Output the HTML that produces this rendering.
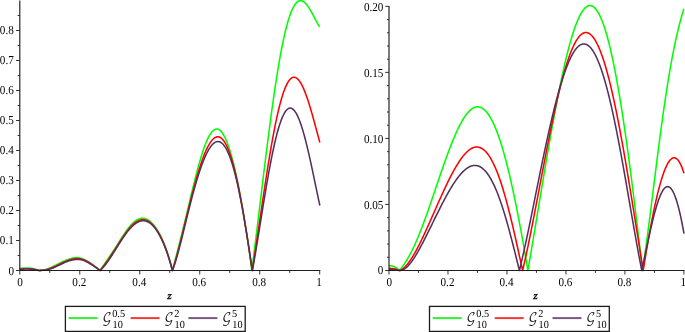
<!DOCTYPE html>
<html lang="en"><head><meta charset="utf-8"><title>Plots</title>
<style>
html,body{margin:0;padding:0;background:#fff;}
body{width:685px;height:332px;overflow:hidden;}
svg{display:block;}
.t{font-family:"Liberation Serif","DejaVu Serif",serif;font-size:12.2px;fill:#000;text-rendering:geometricPrecision;}
.i{font-style:italic;font-size:10.4px;stroke:#000;stroke-width:0.3px;}
.s{font-family:"Liberation Serif","DejaVu Serif",serif;font-size:10.8px;fill:#000;text-rendering:geometricPrecision;}
.g{font-family:"DejaVu Math TeX Gyre","DejaVu Serif","Liberation Serif",serif;font-size:12.4px;fill:#111;}
</style></head><body>
<svg width="685" height="332" viewBox="0 0 685 332">
<rect width="685" height="332" fill="#fff"/>
<g>
<path d="M19.80 268.60L20.30 268.50L20.80 268.41L21.30 268.32L21.80 268.24L22.30 268.17L22.80 268.11L23.30 268.06L23.80 268.02L24.30 267.98L24.80 267.95L25.30 267.93L25.80 267.92L26.30 267.91L26.80 267.91L27.30 267.92L27.80 267.94L28.30 267.97L28.80 268.00L29.30 268.05L29.80 268.10L30.30 268.16L30.80 268.22L31.30 268.30L31.80 268.38L32.30 268.47L32.80 268.57L33.30 268.68L33.80 268.79L34.30 268.92L34.80 269.05L35.30 269.18L35.80 269.33L36.30 269.49L36.80 269.65L37.30 269.82L37.80 270.00L38.30 270.18L38.80 270.38L39.10 270.50L39.60 270.46L40.10 270.42L40.60 270.38L41.10 270.33L41.60 270.28L42.10 270.22L42.60 270.15L43.10 270.07L43.60 269.98L44.10 269.88L44.60 269.77L45.10 269.64L45.60 269.50L46.10 269.36L46.60 269.20L47.10 269.03L47.60 268.86L48.10 268.67L48.60 268.48L49.10 268.28L49.60 268.07L50.10 267.86L50.60 267.64L51.10 267.41L51.60 267.18L52.10 266.95L52.60 266.71L53.10 266.46L53.60 266.22L54.10 265.97L54.60 265.71L55.10 265.46L55.60 265.21L56.10 264.95L56.60 264.70L57.10 264.44L57.60 264.19L58.10 263.94L58.60 263.69L59.10 263.44L59.60 263.19L60.10 262.95L60.60 262.70L61.10 262.46L61.60 262.22L62.10 261.99L62.60 261.75L63.10 261.53L63.60 261.30L64.10 261.08L64.60 260.86L65.10 260.65L65.60 260.44L66.10 260.23L66.60 260.03L67.10 259.84L67.60 259.65L68.10 259.46L68.60 259.29L69.10 259.11L69.60 258.95L70.10 258.78L70.60 258.63L71.10 258.48L71.60 258.34L72.10 258.21L72.60 258.09L73.10 257.98L73.60 257.88L74.10 257.79L74.60 257.72L75.10 257.66L75.60 257.62L76.10 257.60L76.60 257.60L77.10 257.62L77.60 257.65L78.10 257.71L78.60 257.78L79.10 257.86L79.60 257.96L80.10 258.08L80.60 258.21L81.10 258.35L81.60 258.51L82.10 258.67L82.60 258.85L83.10 259.04L83.60 259.24L84.10 259.44L84.60 259.66L85.10 259.89L85.60 260.13L86.10 260.38L86.60 260.64L87.10 260.91L87.60 261.19L88.10 261.48L88.60 261.78L89.10 262.10L89.60 262.43L90.10 262.77L90.60 263.11L91.10 263.47L91.60 263.84L92.10 264.21L92.60 264.59L93.10 264.97L93.60 265.36L94.10 265.75L94.60 266.15L95.10 266.54L95.60 266.94L96.10 267.33L96.60 267.73L97.10 268.12L97.60 268.52L98.10 268.92L98.60 269.31L99.10 269.71L99.60 270.10L100.10 270.50L100.60 269.67L101.10 268.87L101.60 268.08L102.10 267.31L102.60 266.55L103.10 265.81L103.60 265.08L104.10 264.35L104.60 263.63L105.10 262.91L105.60 262.20L106.10 261.49L106.60 260.78L107.10 260.07L107.60 259.36L108.10 258.65L108.60 257.93L109.10 257.21L109.60 256.48L110.10 255.76L110.60 255.02L111.10 254.28L111.60 253.54L112.10 252.79L112.60 252.03L113.10 251.27L113.60 250.51L114.10 249.74L114.60 248.96L115.10 248.18L115.60 247.40L116.10 246.62L116.60 245.83L117.10 245.04L117.60 244.24L118.10 243.45L118.60 242.65L119.10 241.86L119.60 241.07L120.10 240.28L120.60 239.49L121.10 238.70L121.60 237.92L122.10 237.14L122.60 236.37L123.10 235.60L123.60 234.84L124.10 234.09L124.60 233.35L125.10 232.61L125.60 231.89L126.10 231.18L126.60 230.48L127.10 229.79L127.60 229.12L128.10 228.46L128.60 227.81L129.10 227.19L129.60 226.57L130.10 225.98L130.60 225.40L131.10 224.84L131.60 224.30L132.10 223.78L132.60 223.28L133.10 222.80L133.60 222.34L134.10 221.91L134.60 221.49L135.10 221.10L135.60 220.74L136.10 220.39L136.60 220.07L137.10 219.78L137.60 219.51L138.10 219.26L138.60 219.05L139.10 218.85L139.60 218.68L140.10 218.54L140.60 218.43L141.10 218.34L141.60 218.28L142.10 218.24L142.60 218.23L143.10 218.25L143.60 218.30L144.10 218.37L144.60 218.47L145.10 218.60L145.60 218.75L146.10 218.94L146.60 219.14L147.10 219.38L147.60 219.64L148.10 219.93L148.60 220.25L149.10 220.59L149.60 220.96L150.10 221.36L150.60 221.78L151.10 222.23L151.60 222.70L152.10 223.21L152.60 223.74L153.10 224.29L153.60 224.87L154.10 225.48L154.60 226.12L155.10 226.78L155.60 227.47L156.10 228.18L156.60 228.93L157.10 229.70L157.60 230.50L158.10 231.32L158.60 232.18L159.10 233.06L159.60 233.98L160.10 234.92L160.60 235.90L161.10 236.90L161.60 237.94L162.10 239.01L162.60 240.12L163.10 241.26L163.60 242.44L164.10 243.65L164.60 244.91L165.10 246.20L165.60 247.53L166.10 248.91L166.60 250.34L167.10 251.81L167.60 253.33L168.10 254.90L168.60 256.53L169.10 258.21L169.60 259.95L170.10 261.76L170.60 263.62L171.10 265.56L171.60 267.56L172.10 269.65L172.30 270.50L172.80 268.62L173.30 266.74L173.80 264.87L174.30 262.99L174.80 261.11L175.30 259.23L175.80 257.34L176.30 255.45L176.80 253.55L177.30 251.63L177.80 249.71L178.30 247.78L178.80 245.84L179.30 243.89L179.80 241.92L180.30 239.95L180.80 237.96L181.30 235.96L181.80 233.95L182.30 231.93L182.80 229.90L183.30 227.85L183.80 225.80L184.30 223.74L184.80 221.67L185.30 219.59L185.80 217.51L186.30 215.42L186.80 213.33L187.30 211.23L187.80 209.13L188.30 207.02L188.80 204.92L189.30 202.82L189.80 200.72L190.30 198.62L190.80 196.53L191.30 194.45L191.80 192.37L192.30 190.30L192.80 188.24L193.30 186.19L193.80 184.16L194.30 182.14L194.80 180.14L195.30 178.16L195.80 176.19L196.30 174.25L196.80 172.33L197.30 170.43L197.80 168.56L198.30 166.71L198.80 164.90L199.30 163.11L199.80 161.36L200.30 159.63L200.80 157.95L201.30 156.29L201.80 154.68L202.30 153.10L202.80 151.57L203.30 150.07L203.80 148.62L204.30 147.21L204.80 145.84L205.30 144.52L205.80 143.25L206.30 142.03L206.80 140.85L207.30 139.73L207.80 138.66L208.30 137.64L208.80 136.67L209.30 135.76L209.80 134.90L210.30 134.10L210.80 133.36L211.30 132.67L211.80 132.04L212.30 131.47L212.80 130.96L213.30 130.50L213.80 130.11L214.30 129.78L214.80 129.51L215.30 129.30L215.80 129.16L216.30 129.07L216.80 129.05L217.30 129.09L217.80 129.20L218.30 129.36L218.80 129.59L219.30 129.89L219.80 130.24L220.30 130.66L220.80 131.14L221.30 131.69L221.80 132.29L222.30 132.96L222.80 133.70L223.30 134.49L223.80 135.35L224.30 136.26L224.80 137.24L225.30 138.28L225.80 139.38L226.30 140.54L226.80 141.76L227.30 143.03L227.80 144.37L228.30 145.77L228.80 147.22L229.30 148.73L229.80 150.29L230.30 151.92L230.80 153.59L231.30 155.33L231.80 157.11L232.30 158.95L232.80 160.85L233.30 162.80L233.80 164.80L234.30 166.85L234.80 168.95L235.30 171.11L235.80 173.31L236.30 175.57L236.80 177.87L237.30 180.23L237.80 182.63L238.30 185.08L238.80 187.58L239.30 190.13L239.80 192.73L240.30 195.38L240.80 198.07L241.30 200.82L241.80 203.61L242.30 206.45L242.80 209.34L243.30 212.27L243.80 215.26L244.30 218.30L244.80 221.39L245.30 224.53L245.80 227.72L246.30 230.96L246.80 234.26L247.30 237.61L247.80 241.02L248.30 244.49L248.80 248.01L249.30 251.60L249.80 255.25L250.30 258.96L250.80 262.74L251.30 266.58L251.80 270.50L252.30 266.66L252.80 262.79L253.30 258.88L253.80 254.93L254.30 250.96L254.80 246.97L255.30 242.95L255.80 238.90L256.30 234.84L256.80 230.76L257.30 226.66L257.80 222.55L258.30 218.43L258.80 214.30L259.30 210.16L259.80 206.02L260.30 201.88L260.80 197.73L261.30 193.59L261.80 189.45L262.30 185.32L262.80 181.19L263.30 177.08L263.80 172.97L264.30 168.88L264.80 164.81L265.30 160.75L265.80 156.72L266.30 152.70L266.80 148.71L267.30 144.75L267.80 140.81L268.30 136.90L268.80 133.02L269.30 129.17L269.80 125.35L270.30 121.58L270.80 117.83L271.30 114.13L271.80 110.47L272.30 106.85L272.80 103.27L273.30 99.74L273.80 96.25L274.30 92.81L274.80 89.42L275.30 86.08L275.80 82.79L276.30 79.56L276.80 76.37L277.30 73.25L277.80 70.18L278.30 67.16L278.80 64.21L279.30 61.31L279.80 58.48L280.30 55.71L280.80 53.00L281.30 50.35L281.80 47.76L282.30 45.25L282.80 42.79L283.30 40.41L283.80 38.09L284.30 35.83L284.80 33.65L285.30 31.53L285.80 29.49L286.30 27.51L286.80 25.61L287.30 23.77L287.80 22.00L288.30 20.31L288.80 18.68L289.30 17.13L289.80 15.65L290.30 14.24L290.80 12.90L291.30 11.63L291.80 10.44L292.30 9.31L292.80 8.26L293.30 7.27L293.80 6.36L294.30 5.52L294.80 4.74L295.30 4.03L295.80 3.40L296.30 2.83L296.80 2.33L297.30 1.89L297.80 1.52L298.30 1.21L298.80 0.97L299.30 0.79L299.80 0.67L300.30 0.62L300.80 0.62L301.30 0.68L301.80 0.80L302.30 0.98L302.80 1.21L303.30 1.49L303.80 1.83L304.30 2.21L304.80 2.65L305.30 3.13L305.80 3.65L306.30 4.22L306.80 4.83L307.30 5.48L307.80 6.16L308.30 6.88L308.80 7.64L309.30 8.42L309.80 9.23L310.30 10.07L310.80 10.93L311.30 11.82L311.80 12.72L312.30 13.64L312.80 14.56L313.30 15.50L313.80 16.45L314.30 17.40L314.80 18.35L315.30 19.30L315.80 20.25L316.30 21.18L316.80 22.11L317.30 23.02L317.80 23.91L318.30 24.77L318.80 25.62L319.30 26.43L319.60 26.90" fill="none" stroke="#00ff00" stroke-width="1.55" stroke-linejoin="round" stroke-linecap="butt"/>
<path d="M19.80 269.30L20.30 269.22L20.80 269.14L21.30 269.07L21.80 269.01L22.30 268.95L22.80 268.90L23.30 268.85L23.80 268.81L24.30 268.78L24.80 268.75L25.30 268.73L25.80 268.72L26.30 268.71L26.80 268.70L27.30 268.70L27.80 268.71L28.30 268.73L28.80 268.75L29.30 268.77L29.80 268.81L30.30 268.84L30.80 268.89L31.30 268.94L31.80 268.99L32.30 269.06L32.80 269.13L33.30 269.20L33.80 269.28L34.30 269.37L34.80 269.46L35.30 269.56L35.80 269.66L36.30 269.77L36.80 269.89L37.30 270.01L37.80 270.14L38.30 270.27L38.80 270.41L39.10 270.50L39.60 270.46L40.10 270.43L40.60 270.39L41.10 270.35L41.60 270.31L42.10 270.26L42.60 270.21L43.10 270.15L43.60 270.09L44.10 270.02L44.60 269.94L45.10 269.85L45.60 269.76L46.10 269.66L46.60 269.55L47.10 269.43L47.60 269.31L48.10 269.17L48.60 269.02L49.10 268.87L49.60 268.70L50.10 268.52L50.60 268.33L51.10 268.14L51.60 267.93L52.10 267.72L52.60 267.50L53.10 267.28L53.60 267.05L54.10 266.81L54.60 266.57L55.10 266.33L55.60 266.09L56.10 265.85L56.60 265.60L57.10 265.36L57.60 265.12L58.10 264.87L58.60 264.63L59.10 264.39L59.60 264.15L60.10 263.91L60.60 263.68L61.10 263.44L61.60 263.21L62.10 262.98L62.60 262.75L63.10 262.52L63.60 262.30L64.10 262.08L64.60 261.86L65.10 261.65L65.60 261.44L66.10 261.23L66.60 261.03L67.10 260.83L67.60 260.64L68.10 260.45L68.60 260.27L69.10 260.10L69.60 259.94L70.10 259.78L70.60 259.63L71.10 259.49L71.60 259.35L72.10 259.23L72.60 259.12L73.10 259.01L73.60 258.92L74.10 258.84L74.60 258.77L75.10 258.71L75.60 258.66L76.10 258.63L76.60 258.61L77.10 258.60L77.60 258.61L78.10 258.63L78.60 258.66L79.10 258.71L79.60 258.78L80.10 258.86L80.60 258.95L81.10 259.06L81.60 259.18L82.10 259.32L82.60 259.47L83.10 259.63L83.60 259.81L84.10 260.01L84.60 260.22L85.10 260.44L85.60 260.67L86.10 260.91L86.60 261.17L87.10 261.43L87.60 261.71L88.10 262.00L88.60 262.29L89.10 262.60L89.60 262.91L90.10 263.23L90.60 263.56L91.10 263.90L91.60 264.24L92.10 264.59L92.60 264.94L93.10 265.29L93.60 265.65L94.10 266.02L94.60 266.38L95.10 266.75L95.60 267.12L96.10 267.49L96.60 267.87L97.10 268.24L97.60 268.62L98.10 268.99L98.60 269.37L99.10 269.75L99.60 270.12L100.10 270.50L100.60 269.87L101.10 269.24L101.60 268.61L102.10 267.98L102.60 267.34L103.10 266.70L103.60 266.05L104.10 265.39L104.60 264.74L105.10 264.07L105.60 263.40L106.10 262.72L106.60 262.03L107.10 261.33L107.60 260.63L108.10 259.92L108.60 259.21L109.10 258.48L109.60 257.75L110.10 257.01L110.60 256.27L111.10 255.52L111.60 254.76L112.10 254.00L112.60 253.23L113.10 252.46L113.60 251.69L114.10 250.91L114.60 250.12L115.10 249.34L115.60 248.55L116.10 247.75L116.60 246.96L117.10 246.17L117.60 245.38L118.10 244.58L118.60 243.79L119.10 243.01L119.60 242.22L120.10 241.44L120.60 240.66L121.10 239.88L121.60 239.11L122.10 238.35L122.60 237.59L123.10 236.84L123.60 236.10L124.10 235.37L124.60 234.65L125.10 233.93L125.60 233.23L126.10 232.54L126.60 231.86L127.10 231.19L127.60 230.54L128.10 229.90L128.60 229.28L129.10 228.67L129.60 228.07L130.10 227.50L130.60 226.93L131.10 226.39L131.60 225.87L132.10 225.36L132.60 224.87L133.10 224.40L133.60 223.95L134.10 223.53L134.60 223.12L135.10 222.73L135.60 222.37L136.10 222.02L136.60 221.70L137.10 221.41L137.60 221.13L138.10 220.88L138.60 220.65L139.10 220.45L139.60 220.27L140.10 220.12L140.60 219.99L141.10 219.89L141.60 219.81L142.10 219.75L142.60 219.72L143.10 219.72L143.60 219.75L144.10 219.80L144.60 219.87L145.10 219.98L145.60 220.11L146.10 220.26L146.60 220.44L147.10 220.65L147.60 220.89L148.10 221.15L148.60 221.44L149.10 221.76L149.60 222.11L150.10 222.48L150.60 222.88L151.10 223.31L151.60 223.76L152.10 224.24L152.60 224.75L153.10 225.29L153.60 225.86L154.10 226.45L154.60 227.07L155.10 227.72L155.60 228.40L156.10 229.11L156.60 229.85L157.10 230.61L157.60 231.41L158.10 232.23L158.60 233.08L159.10 233.96L159.60 234.88L160.10 235.82L160.60 236.80L161.10 237.80L161.60 238.84L162.10 239.91L162.60 241.02L163.10 242.15L163.60 243.32L164.10 244.53L164.60 245.77L165.10 247.05L165.60 248.36L166.10 249.72L166.60 251.11L167.10 252.54L167.60 254.01L168.10 255.53L168.60 257.09L169.10 258.69L169.60 260.34L170.10 262.04L170.60 263.78L171.10 265.58L171.60 267.43L172.10 269.33L172.40 270.50L172.90 269.00L173.40 267.45L173.90 265.86L174.40 264.21L174.90 262.53L175.40 260.81L175.90 259.05L176.40 257.25L176.90 255.42L177.40 253.57L177.90 251.68L178.40 249.77L178.90 247.84L179.40 245.88L179.90 243.91L180.40 241.92L180.90 239.92L181.40 237.90L181.90 235.87L182.40 233.82L182.90 231.78L183.40 229.72L183.90 227.66L184.40 225.60L184.90 223.53L185.40 221.47L185.90 219.40L186.40 217.34L186.90 215.29L187.40 213.23L187.90 211.19L188.40 209.15L188.90 207.12L189.40 205.10L189.90 203.10L190.40 201.10L190.90 199.12L191.40 197.16L191.90 195.21L192.40 193.28L192.90 191.36L193.40 189.46L193.90 187.59L194.40 185.73L194.90 183.90L195.40 182.09L195.90 180.30L196.40 178.54L196.90 176.80L197.40 175.09L197.90 173.41L198.40 171.75L198.90 170.13L199.40 168.53L199.90 166.96L200.40 165.43L200.90 163.92L201.40 162.45L201.90 161.01L202.40 159.61L202.90 158.24L203.40 156.91L203.90 155.61L204.40 154.35L204.90 153.13L205.40 151.94L205.90 150.80L206.40 149.69L206.90 148.63L207.40 147.61L207.90 146.63L208.40 145.69L208.90 144.79L209.40 143.94L209.90 143.13L210.40 142.37L210.90 141.66L211.40 140.99L211.90 140.36L212.40 139.79L212.90 139.26L213.40 138.78L213.90 138.36L214.40 137.98L214.90 137.65L215.40 137.37L215.90 137.15L216.40 136.98L216.90 136.86L217.40 136.79L217.90 136.78L218.40 136.82L218.90 136.92L219.40 137.07L219.90 137.28L220.40 137.54L220.90 137.86L221.40 138.24L221.90 138.68L222.40 139.17L222.90 139.72L223.40 140.33L223.90 141.00L224.40 141.73L224.90 142.52L225.40 143.37L225.90 144.28L226.40 145.25L226.90 146.29L227.40 147.38L227.90 148.53L228.40 149.75L228.90 151.02L229.40 152.36L229.90 153.76L230.40 155.22L230.90 156.74L231.40 158.32L231.90 159.97L232.40 161.67L232.90 163.44L233.40 165.27L233.90 167.16L234.40 169.10L234.90 171.11L235.40 173.18L235.90 175.31L236.40 177.49L236.90 179.73L237.40 182.03L237.90 184.39L238.40 186.80L238.90 189.27L239.40 191.79L239.90 194.37L240.40 196.99L240.90 199.67L241.40 202.40L241.90 205.18L242.40 208.00L242.90 210.88L243.40 213.79L243.90 216.75L244.40 219.76L244.90 222.80L245.40 225.88L245.90 229.00L246.40 232.15L246.90 235.34L247.40 238.55L247.90 241.80L248.40 245.07L248.90 248.36L249.40 251.67L249.90 255.01L250.40 258.36L250.90 261.72L251.40 265.09L251.90 268.47L252.20 270.50L252.70 267.39L253.20 264.24L253.70 261.05L254.20 257.83L254.70 254.58L255.20 251.30L255.70 247.99L256.20 244.66L256.70 241.31L257.20 237.95L257.70 234.57L258.20 231.18L258.70 227.78L259.20 224.37L259.70 220.96L260.20 217.55L260.70 214.14L261.20 210.73L261.70 207.33L262.20 203.94L262.70 200.56L263.20 197.19L263.70 193.83L264.20 190.50L264.70 187.18L265.20 183.88L265.70 180.61L266.20 177.36L266.70 174.14L267.20 170.95L267.70 167.79L268.20 164.66L268.70 161.57L269.20 158.51L269.70 155.49L270.20 152.51L270.70 149.58L271.20 146.68L271.70 143.83L272.20 141.02L272.70 138.26L273.20 135.55L273.70 132.89L274.20 130.28L274.70 127.73L275.20 125.22L275.70 122.77L276.20 120.38L276.70 118.04L277.20 115.77L277.70 113.55L278.20 111.39L278.70 109.29L279.20 107.25L279.70 105.27L280.20 103.36L280.70 101.51L281.20 99.73L281.70 98.01L282.20 96.36L282.70 94.77L283.20 93.25L283.70 91.80L284.20 90.42L284.70 89.10L285.20 87.85L285.70 86.67L286.20 85.56L286.70 84.52L287.20 83.55L287.70 82.65L288.20 81.81L288.70 81.05L289.20 80.36L289.70 79.73L290.20 79.18L290.70 78.69L291.20 78.28L291.70 77.93L292.20 77.65L292.70 77.44L293.20 77.30L293.70 77.22L294.20 77.22L294.70 77.28L295.20 77.40L295.70 77.59L296.20 77.85L296.70 78.17L297.20 78.55L297.70 79.00L298.20 79.51L298.70 80.08L299.20 80.71L299.70 81.40L300.20 82.15L300.70 82.95L301.20 83.81L301.70 84.73L302.20 85.70L302.70 86.73L303.20 87.80L303.70 88.93L304.20 90.11L304.70 91.33L305.20 92.60L305.70 93.92L306.20 95.28L306.70 96.68L307.20 98.12L307.70 99.61L308.20 101.12L308.70 102.68L309.20 104.27L309.70 105.89L310.20 107.54L310.70 109.22L311.20 110.92L311.70 112.65L312.20 114.41L312.70 116.18L313.20 117.97L313.70 119.78L314.20 121.60L314.70 123.43L315.20 125.28L315.70 127.13L316.20 128.99L316.70 130.84L317.20 132.70L317.70 134.56L318.20 136.41L318.70 138.26L319.20 140.09L319.70 141.92L319.85 142.46" fill="none" stroke="#ff0000" stroke-width="1.55" stroke-linejoin="round" stroke-linecap="butt"/>
<path d="M19.80 269.50L20.30 269.43L20.80 269.37L21.30 269.32L21.80 269.27L22.30 269.22L22.80 269.18L23.30 269.14L23.80 269.11L24.30 269.08L24.80 269.06L25.30 269.05L25.80 269.03L26.30 269.03L26.80 269.02L27.30 269.03L27.80 269.03L28.30 269.05L28.80 269.06L29.30 269.09L29.80 269.11L30.30 269.14L30.80 269.18L31.30 269.22L31.80 269.27L32.30 269.32L32.80 269.38L33.30 269.44L33.80 269.50L34.30 269.57L34.80 269.65L35.30 269.73L35.80 269.81L36.30 269.91L36.80 270.00L37.30 270.10L37.80 270.20L38.30 270.31L38.80 270.43L39.10 270.50L39.60 270.47L40.10 270.45L40.60 270.42L41.10 270.39L41.60 270.36L42.10 270.32L42.60 270.28L43.10 270.24L43.60 270.19L44.10 270.14L44.60 270.08L45.10 270.01L45.60 269.94L46.10 269.87L46.60 269.78L47.10 269.69L47.60 269.59L48.10 269.48L48.60 269.37L49.10 269.25L49.60 269.11L50.10 268.97L50.60 268.82L51.10 268.66L51.60 268.49L52.10 268.31L52.60 268.13L53.10 267.93L53.60 267.73L54.10 267.53L54.60 267.31L55.10 267.09L55.60 266.87L56.10 266.64L56.60 266.41L57.10 266.17L57.60 265.93L58.10 265.68L58.60 265.43L59.10 265.18L59.60 264.94L60.10 264.69L60.60 264.44L61.10 264.19L61.60 263.95L62.10 263.70L62.60 263.46L63.10 263.23L63.60 263.00L64.10 262.78L64.60 262.56L65.10 262.34L65.60 262.14L66.10 261.94L66.60 261.74L67.10 261.55L67.60 261.37L68.10 261.20L68.60 261.03L69.10 260.87L69.60 260.71L70.10 260.57L70.60 260.43L71.10 260.30L71.60 260.17L72.10 260.05L72.60 259.95L73.10 259.85L73.60 259.76L74.10 259.68L74.60 259.61L75.10 259.55L75.60 259.49L76.10 259.45L76.60 259.42L77.10 259.41L77.60 259.40L78.10 259.40L78.60 259.42L79.10 259.45L79.60 259.49L80.10 259.55L80.60 259.62L81.10 259.71L81.60 259.81L82.10 259.94L82.60 260.08L83.10 260.23L83.60 260.41L84.10 260.60L84.60 260.81L85.10 261.04L85.60 261.28L86.10 261.53L86.60 261.79L87.10 262.06L87.60 262.33L88.10 262.62L88.60 262.91L89.10 263.20L89.60 263.50L90.10 263.79L90.60 264.10L91.10 264.40L91.60 264.71L92.10 265.02L92.60 265.33L93.10 265.65L93.60 265.97L94.10 266.30L94.60 266.63L95.10 266.96L95.60 267.30L96.10 267.65L96.60 268.00L97.10 268.35L97.60 268.70L98.10 269.06L98.60 269.42L99.10 269.78L99.60 270.14L100.10 270.50L100.60 270.05L101.10 269.58L101.60 269.08L102.10 268.57L102.60 268.03L103.10 267.48L103.60 266.91L104.10 266.32L104.60 265.71L105.10 265.08L105.60 264.44L106.10 263.79L106.60 263.12L107.10 262.43L107.60 261.74L108.10 261.03L108.60 260.31L109.10 259.57L109.60 258.83L110.10 258.08L110.60 257.32L111.10 256.56L111.60 255.78L112.10 255.01L112.60 254.22L113.10 253.43L113.60 252.64L114.10 251.84L114.60 251.04L115.10 250.24L115.60 249.43L116.10 248.63L116.60 247.83L117.10 247.02L117.60 246.22L118.10 245.42L118.60 244.63L119.10 243.83L119.60 243.05L120.10 242.26L120.60 241.48L121.10 240.71L121.60 239.95L122.10 239.19L122.60 238.44L123.10 237.70L123.60 236.97L124.10 236.24L124.60 235.53L125.10 234.83L125.60 234.14L126.10 233.46L126.60 232.80L127.10 232.14L127.60 231.50L128.10 230.88L128.60 230.27L129.10 229.67L129.60 229.09L130.10 228.53L130.60 227.98L131.10 227.45L131.60 226.94L132.10 226.44L132.60 225.96L133.10 225.50L133.60 225.06L134.10 224.64L134.60 224.24L135.10 223.86L135.60 223.50L136.10 223.16L136.60 222.84L137.10 222.54L137.60 222.26L138.10 222.01L138.60 221.78L139.10 221.57L139.60 221.38L140.10 221.22L140.60 221.08L141.10 220.96L141.60 220.87L142.10 220.80L142.60 220.76L143.10 220.74L143.60 220.75L144.10 220.78L144.60 220.84L145.10 220.92L145.60 221.03L146.10 221.16L146.60 221.32L147.10 221.51L147.60 221.72L148.10 221.96L148.60 222.23L149.10 222.52L149.60 222.85L150.10 223.19L150.60 223.57L151.10 223.98L151.60 224.41L152.10 224.87L152.60 225.36L153.10 225.87L153.60 226.42L154.10 227.00L154.60 227.60L155.10 228.23L155.60 228.90L156.10 229.59L156.60 230.31L157.10 231.06L157.60 231.85L158.10 232.66L158.60 233.50L159.10 234.38L159.60 235.28L160.10 236.22L160.60 237.19L161.10 238.19L161.60 239.22L162.10 240.29L162.60 241.39L163.10 242.52L163.60 243.69L164.10 244.88L164.60 246.12L165.10 247.39L165.60 248.69L166.10 250.03L166.60 251.40L167.10 252.81L167.60 254.26L168.10 255.74L168.60 257.27L169.10 258.83L169.60 260.43L170.10 262.06L170.60 263.74L171.10 265.46L171.60 267.22L172.10 269.03L172.50 270.50L173.00 269.19L173.50 267.81L174.00 266.37L174.50 264.87L175.00 263.31L175.50 261.70L176.00 260.04L176.50 258.33L177.00 256.58L177.50 254.79L178.00 252.97L178.50 251.12L179.00 249.23L179.50 247.32L180.00 245.39L180.50 243.43L181.00 241.45L181.50 239.46L182.00 237.46L182.50 235.44L183.00 233.42L183.50 231.38L184.00 229.35L184.50 227.30L185.00 225.26L185.50 223.22L186.00 221.18L186.50 219.14L187.00 217.11L187.50 215.09L188.00 213.07L188.50 211.06L189.00 209.07L189.50 207.08L190.00 205.11L190.50 203.16L191.00 201.22L191.50 199.30L192.00 197.39L192.50 195.51L193.00 193.64L193.50 191.80L194.00 189.98L194.50 188.18L195.00 186.41L195.50 184.65L196.00 182.93L196.50 181.23L197.00 179.56L197.50 177.91L198.00 176.30L198.50 174.71L199.00 173.15L199.50 171.63L200.00 170.13L200.50 168.67L201.00 167.23L201.50 165.84L202.00 164.47L202.50 163.14L203.00 161.84L203.50 160.58L204.00 159.35L204.50 158.16L205.00 157.00L205.50 155.89L206.00 154.81L206.50 153.77L207.00 152.76L207.50 151.80L208.00 150.88L208.50 149.99L209.00 149.15L209.50 148.35L210.00 147.59L210.50 146.88L211.00 146.20L211.50 145.57L212.00 144.99L212.50 144.45L213.00 143.95L213.50 143.50L214.00 143.09L214.50 142.73L215.00 142.42L215.50 142.16L216.00 141.94L216.50 141.77L217.00 141.65L217.50 141.59L218.00 141.57L218.50 141.60L219.00 141.68L219.50 141.81L220.00 142.00L220.50 142.24L221.00 142.53L221.50 142.88L222.00 143.28L222.50 143.73L223.00 144.24L223.50 144.80L224.00 145.42L224.50 146.10L225.00 146.83L225.50 147.62L226.00 148.47L226.50 149.37L227.00 150.33L227.50 151.35L228.00 152.43L228.50 153.57L229.00 154.77L229.50 156.02L230.00 157.34L230.50 158.71L231.00 160.14L231.50 161.64L232.00 163.19L232.50 164.81L233.00 166.48L233.50 168.21L234.00 170.00L234.50 171.86L235.00 173.77L235.50 175.74L236.00 177.76L236.50 179.85L237.00 181.99L237.50 184.19L238.00 186.45L238.50 188.77L239.00 191.13L239.50 193.56L240.00 196.04L240.50 198.57L241.00 201.15L241.50 203.78L242.00 206.46L242.50 209.19L243.00 211.97L243.50 214.79L244.00 217.66L244.50 220.57L245.00 223.52L245.50 226.51L246.00 229.54L246.50 232.60L247.00 235.70L247.50 238.82L248.00 241.97L248.50 245.15L249.00 248.35L249.50 251.58L250.00 254.81L250.50 258.07L251.00 261.33L251.50 264.60L252.00 267.88L252.40 270.50L252.90 267.74L253.40 264.94L253.90 262.09L254.40 259.21L254.90 256.29L255.40 253.33L255.90 250.35L256.40 247.34L256.90 244.31L257.40 241.26L257.90 238.19L258.40 235.11L258.90 232.01L259.40 228.91L259.90 225.80L260.40 222.69L260.90 219.58L261.40 216.48L261.90 213.38L262.40 210.29L262.90 207.20L263.40 204.14L263.90 201.08L264.40 198.05L264.90 195.04L265.40 192.05L265.90 189.08L266.40 186.14L266.90 183.24L267.40 180.36L267.90 177.52L268.40 174.71L268.90 171.94L269.40 169.21L269.90 166.52L270.40 163.88L270.90 161.27L271.40 158.72L271.90 156.21L272.40 153.76L272.90 151.36L273.40 149.00L273.90 146.71L274.40 144.47L274.90 142.28L275.40 140.16L275.90 138.09L276.40 136.09L276.90 134.15L277.40 132.27L277.90 130.45L278.40 128.70L278.90 127.02L279.40 125.41L279.90 123.86L280.40 122.38L280.90 120.97L281.40 119.63L281.90 118.37L282.40 117.17L282.90 116.05L283.40 115.00L283.90 114.02L284.40 113.11L284.90 112.28L285.40 111.53L285.90 110.85L286.40 110.24L286.90 109.71L287.40 109.25L287.90 108.87L288.40 108.57L288.90 108.34L289.40 108.18L289.90 108.10L290.40 108.09L290.90 108.16L291.40 108.31L291.90 108.52L292.40 108.81L292.90 109.17L293.40 109.61L293.90 110.12L294.40 110.70L294.90 111.35L295.40 112.07L295.90 112.86L296.40 113.72L296.90 114.64L297.40 115.64L297.90 116.69L298.40 117.82L298.90 119.01L299.40 120.26L299.90 121.57L300.40 122.95L300.90 124.38L301.40 125.87L301.90 127.42L302.40 129.02L302.90 130.68L303.40 132.39L303.90 134.15L304.40 135.96L304.90 137.82L305.40 139.72L305.90 141.67L306.40 143.67L306.90 145.70L307.40 147.77L307.90 149.88L308.40 152.02L308.90 154.20L309.40 156.41L309.90 158.64L310.40 160.91L310.90 163.19L311.40 165.50L311.90 167.83L312.40 170.18L312.90 172.54L313.40 174.92L313.90 177.31L314.40 179.70L314.90 182.10L315.40 184.50L315.90 186.90L316.40 189.29L316.90 191.68L317.40 194.06L317.90 196.43L318.40 198.79L318.90 201.12L319.40 203.44L319.85 205.50" fill="none" stroke="#54305e" stroke-width="1.55" stroke-linejoin="round" stroke-linecap="butt"/>
<path d="M388.90 265.70L389.40 265.66L389.90 265.65L390.40 265.67L390.90 265.71L391.40 265.78L391.90 265.88L392.40 266.01L392.90 266.16L393.40 266.34L393.90 266.54L394.40 266.78L394.90 267.04L395.40 267.32L395.90 267.64L396.40 267.98L396.90 268.35L397.40 268.75L397.90 269.17L398.40 269.62L398.90 270.10L399.30 270.50L399.80 269.94L400.30 269.36L400.80 268.77L401.30 268.15L401.80 267.52L402.30 266.87L402.80 266.20L403.30 265.51L403.80 264.80L404.30 264.08L404.80 263.33L405.30 262.57L405.80 261.79L406.30 260.99L406.80 260.17L407.30 259.33L407.80 258.48L408.30 257.61L408.80 256.71L409.30 255.80L409.80 254.88L410.30 253.93L410.80 252.97L411.30 251.99L411.80 250.99L412.30 249.97L412.80 248.94L413.30 247.89L413.80 246.83L414.30 245.74L414.80 244.65L415.30 243.53L415.80 242.40L416.30 241.26L416.80 240.10L417.30 238.92L417.80 237.73L418.30 236.53L418.80 235.31L419.30 234.08L419.80 232.83L420.30 231.57L420.80 230.30L421.30 229.02L421.80 227.72L422.30 226.41L422.80 225.10L423.30 223.76L423.80 222.42L424.30 221.07L424.80 219.71L425.30 218.34L425.80 216.96L426.30 215.57L426.80 214.17L427.30 212.77L427.80 211.35L428.30 209.93L428.80 208.50L429.30 207.07L429.80 205.63L430.30 204.18L430.80 202.73L431.30 201.28L431.80 199.82L432.30 198.35L432.80 196.89L433.30 195.42L433.80 193.94L434.30 192.47L434.80 190.99L435.30 189.52L435.80 188.04L436.30 186.56L436.80 185.08L437.30 183.60L437.80 182.13L438.30 180.65L438.80 179.18L439.30 177.71L439.80 176.24L440.30 174.77L440.80 173.31L441.30 171.86L441.80 170.40L442.30 168.96L442.80 167.52L443.30 166.08L443.80 164.66L444.30 163.24L444.80 161.82L445.30 160.42L445.80 159.02L446.30 157.63L446.80 156.26L447.30 154.89L447.80 153.53L448.30 152.18L448.80 150.85L449.30 149.52L449.80 148.21L450.30 146.91L450.80 145.63L451.30 144.35L451.80 143.10L452.30 141.85L452.80 140.62L453.30 139.41L453.80 138.21L454.30 137.03L454.80 135.86L455.30 134.71L455.80 133.58L456.30 132.47L456.80 131.38L457.30 130.30L457.80 129.24L458.30 128.21L458.80 127.19L459.30 126.19L459.80 125.21L460.30 124.26L460.80 123.32L461.30 122.41L461.80 121.52L462.30 120.66L462.80 119.81L463.30 118.99L463.80 118.19L464.30 117.42L464.80 116.67L465.30 115.95L465.80 115.25L466.30 114.58L466.80 113.93L467.30 113.31L467.80 112.71L468.30 112.14L468.80 111.60L469.30 111.09L469.80 110.60L470.30 110.15L470.80 109.72L471.30 109.31L471.80 108.94L472.30 108.60L472.80 108.29L473.30 108.00L473.80 107.75L474.30 107.52L474.80 107.33L475.30 107.17L475.80 107.03L476.30 106.93L476.80 106.86L477.30 106.82L477.80 106.82L478.30 106.84L478.80 106.90L479.30 106.99L479.80 107.11L480.30 107.26L480.80 107.45L481.30 107.67L481.80 107.92L482.30 108.21L482.80 108.53L483.30 108.88L483.80 109.27L484.30 109.69L484.80 110.14L485.30 110.63L485.80 111.16L486.30 111.71L486.80 112.30L487.30 112.93L487.80 113.59L488.30 114.28L488.80 115.01L489.30 115.77L489.80 116.57L490.30 117.40L490.80 118.27L491.30 119.17L491.80 120.11L492.30 121.08L492.80 122.08L493.30 123.12L493.80 124.19L494.30 125.30L494.80 126.45L495.30 127.62L495.80 128.84L496.30 130.08L496.80 131.36L497.30 132.68L497.80 134.03L498.30 135.41L498.80 136.83L499.30 138.28L499.80 139.76L500.30 141.28L500.80 142.83L501.30 144.42L501.80 146.04L502.30 147.69L502.80 149.37L503.30 151.09L503.80 152.84L504.30 154.62L504.80 156.44L505.30 158.28L505.80 160.16L506.30 162.07L506.80 164.01L507.30 165.98L507.80 167.98L508.30 170.02L508.80 172.08L509.30 174.18L509.80 176.30L510.30 178.45L510.80 180.64L511.30 182.85L511.80 185.09L512.30 187.36L512.80 189.66L513.30 191.98L513.80 194.34L514.30 196.72L514.80 199.12L515.30 201.56L515.80 204.02L516.30 206.50L516.80 209.01L517.30 211.55L517.80 214.11L518.30 216.70L518.80 219.31L519.30 221.94L519.80 224.60L520.30 227.28L520.80 229.98L521.30 232.70L521.80 235.45L522.30 238.21L522.80 241.00L523.30 243.81L523.80 246.63L524.30 249.48L524.80 252.34L525.30 255.23L525.80 258.13L526.30 261.05L526.80 263.98L527.30 266.94L527.80 269.90L527.90 270.50L528.40 267.60L528.90 264.68L529.40 261.76L529.90 258.82L530.40 255.88L530.90 252.92L531.40 249.96L531.90 246.99L532.40 244.02L532.90 241.03L533.40 238.04L533.90 235.05L534.40 232.05L534.90 229.05L535.40 226.04L535.90 223.03L536.40 220.01L536.90 216.99L537.40 213.98L537.90 210.96L538.40 207.94L538.90 204.92L539.40 201.90L539.90 198.89L540.40 195.87L540.90 192.86L541.40 189.85L541.90 186.85L542.40 183.85L542.90 180.85L543.40 177.86L543.90 174.88L544.40 171.90L544.90 168.93L545.40 165.97L545.90 163.02L546.40 160.08L546.90 157.15L547.40 154.23L547.90 151.32L548.40 148.42L548.90 145.53L549.40 142.66L549.90 139.80L550.40 136.96L550.90 134.13L551.40 131.31L551.90 128.52L552.40 125.73L552.90 122.97L553.40 120.23L553.90 117.50L554.40 114.79L554.90 112.10L555.40 109.44L555.90 106.79L556.40 104.17L556.90 101.57L557.40 98.99L557.90 96.43L558.40 93.90L558.90 91.39L559.40 88.91L559.90 86.46L560.40 84.03L560.90 81.63L561.40 79.25L561.90 76.90L562.40 74.59L562.90 72.30L563.40 70.04L563.90 67.81L564.40 65.61L564.90 63.44L565.40 61.31L565.90 59.21L566.40 57.14L566.90 55.10L567.40 53.10L567.90 51.14L568.40 49.20L568.90 47.31L569.40 45.45L569.90 43.62L570.40 41.84L570.90 40.09L571.40 38.38L571.90 36.71L572.40 35.07L572.90 33.48L573.40 31.93L573.90 30.41L574.40 28.94L574.90 27.51L575.40 26.12L575.90 24.77L576.40 23.46L576.90 22.20L577.40 20.98L577.90 19.80L578.40 18.67L578.90 17.58L579.40 16.54L579.90 15.54L580.40 14.59L580.90 13.69L581.40 12.83L581.90 12.01L582.40 11.25L582.90 10.53L583.40 9.85L583.90 9.23L584.40 8.65L584.90 8.13L585.40 7.65L585.90 7.22L586.40 6.84L586.90 6.50L587.40 6.22L587.90 5.99L588.40 5.81L588.90 5.68L589.40 5.60L589.90 5.57L590.40 5.59L590.90 5.66L591.40 5.78L591.90 5.95L592.40 6.18L592.90 6.46L593.40 6.79L593.90 7.17L594.40 7.60L594.90 8.09L595.40 8.63L595.90 9.22L596.40 9.86L596.90 10.56L597.40 11.31L597.90 12.11L598.40 12.96L598.90 13.87L599.40 14.83L599.90 15.84L600.40 16.90L600.90 18.02L601.40 19.19L601.90 20.42L602.40 21.69L602.90 23.02L603.40 24.40L603.90 25.83L604.40 27.32L604.90 28.86L605.40 30.45L605.90 32.09L606.40 33.78L606.90 35.53L607.40 37.32L607.90 39.17L608.40 41.07L608.90 43.02L609.40 45.02L609.90 47.08L610.40 49.18L610.90 51.33L611.40 53.53L611.90 55.79L612.40 58.09L612.90 60.44L613.40 62.84L613.90 65.29L614.40 67.78L614.90 70.33L615.40 72.92L615.90 75.56L616.40 78.25L616.90 80.98L617.40 83.76L617.90 86.58L618.40 89.45L618.90 92.37L619.40 95.33L619.90 98.33L620.40 101.38L620.90 104.47L621.40 107.60L621.90 110.78L622.40 113.99L622.90 117.25L623.40 120.55L623.90 123.89L624.40 127.27L624.90 130.69L625.40 134.14L625.90 137.64L626.40 141.17L626.90 144.73L627.40 148.34L627.90 151.98L628.40 155.65L628.90 159.36L629.40 163.10L629.90 166.87L630.40 170.68L630.90 174.52L631.40 178.38L631.90 182.28L632.40 186.21L632.90 190.17L633.40 194.15L633.90 198.16L634.40 202.19L634.90 206.26L635.40 210.34L635.90 214.45L636.40 218.58L636.90 222.74L637.40 226.91L637.90 231.11L638.40 235.32L638.90 239.56L639.40 243.81L639.90 248.08L640.40 252.36L640.90 256.66L641.40 260.97L641.90 265.29L642.40 269.63L642.50 270.50L643.00 267.23L643.50 263.90L644.00 260.49L644.50 257.01L645.00 253.48L645.50 249.89L646.00 246.24L646.50 242.55L647.00 238.81L647.50 235.03L648.00 231.22L648.50 227.37L649.00 223.49L649.50 219.59L650.00 215.66L650.50 211.71L651.00 207.74L651.50 203.77L652.00 199.78L652.50 195.79L653.00 191.79L653.50 187.79L654.00 183.79L654.50 179.80L655.00 175.81L655.50 171.84L656.00 167.87L656.50 163.93L657.00 159.99L657.50 156.08L658.00 152.19L658.50 148.33L659.00 144.48L659.50 140.67L660.00 136.89L660.50 133.14L661.00 129.42L661.50 125.74L662.00 122.09L662.50 118.48L663.00 114.91L663.50 111.38L664.00 107.90L664.50 104.46L665.00 101.06L665.50 97.71L666.00 94.40L666.50 91.14L667.00 87.93L667.50 84.77L668.00 81.66L668.50 78.60L669.00 75.59L669.50 72.63L670.00 69.73L670.50 66.87L671.00 64.07L671.50 61.32L672.00 58.62L672.50 55.97L673.00 53.38L673.50 50.84L674.00 48.35L674.50 45.91L675.00 43.52L675.50 41.18L676.00 38.90L676.50 36.66L677.00 34.47L677.50 32.33L678.00 30.24L678.50 28.19L679.00 26.18L679.50 24.23L680.00 22.31L680.50 20.43L681.00 18.60L681.50 16.80L682.00 15.04L682.50 13.32L683.00 11.63L683.50 9.98L683.90 8.67" fill="none" stroke="#00ff00" stroke-width="1.55" stroke-linejoin="round" stroke-linecap="butt"/>
<path d="M388.90 268.40L389.40 268.39L389.90 268.38L390.40 268.39L390.90 268.41L391.40 268.45L391.90 268.49L392.40 268.54L392.90 268.61L393.40 268.69L393.90 268.78L394.40 268.88L394.90 268.99L395.40 269.11L395.90 269.24L396.40 269.39L396.90 269.55L397.40 269.71L397.90 269.89L398.40 270.08L398.90 270.29L399.40 270.50L399.90 270.34L400.40 270.14L400.90 269.91L401.40 269.64L401.90 269.35L402.40 269.02L402.90 268.66L403.40 268.27L403.90 267.85L404.40 267.41L404.90 266.93L405.40 266.44L405.90 265.91L406.40 265.36L406.90 264.78L407.40 264.19L407.90 263.56L408.40 262.92L408.90 262.25L409.40 261.57L409.90 260.86L410.40 260.14L410.90 259.39L411.40 258.63L411.90 257.84L412.40 257.04L412.90 256.23L413.40 255.40L413.90 254.55L414.40 253.68L414.90 252.81L415.40 251.91L415.90 251.01L416.40 250.09L416.90 249.16L417.40 248.21L417.90 247.25L418.40 246.29L418.90 245.31L419.40 244.32L419.90 243.32L420.40 242.31L420.90 241.29L421.40 240.27L421.90 239.23L422.40 238.19L422.90 237.13L423.40 236.07L423.90 235.01L424.40 233.94L424.90 232.86L425.40 231.77L425.90 230.68L426.40 229.58L426.90 228.48L427.40 227.38L427.90 226.27L428.40 225.16L428.90 224.04L429.40 222.92L429.90 221.79L430.40 220.67L430.90 219.54L431.40 218.41L431.90 217.28L432.40 216.15L432.90 215.01L433.40 213.88L433.90 212.74L434.40 211.60L434.90 210.47L435.40 209.33L435.90 208.20L436.40 207.07L436.90 205.93L437.40 204.80L437.90 203.67L438.40 202.55L438.90 201.42L439.40 200.30L439.90 199.19L440.40 198.07L440.90 196.96L441.40 195.85L441.90 194.75L442.40 193.65L442.90 192.56L443.40 191.47L443.90 190.39L444.40 189.31L444.90 188.24L445.40 187.18L445.90 186.12L446.40 185.07L446.90 184.03L447.40 182.99L447.90 181.96L448.40 180.94L448.90 179.93L449.40 178.93L449.90 177.94L450.40 176.95L450.90 175.98L451.40 175.02L451.90 174.06L452.40 173.12L452.90 172.19L453.40 171.27L453.90 170.36L454.40 169.47L454.90 168.58L455.40 167.71L455.90 166.85L456.40 166.01L456.90 165.18L457.40 164.36L457.90 163.56L458.40 162.77L458.90 162.00L459.40 161.24L459.90 160.50L460.40 159.77L460.90 159.06L461.40 158.37L461.90 157.69L462.40 157.03L462.90 156.39L463.40 155.77L463.90 155.17L464.40 154.58L464.90 154.01L465.40 153.47L465.90 152.94L466.40 152.43L466.90 151.95L467.40 151.48L467.90 151.04L468.40 150.61L468.90 150.21L469.40 149.83L469.90 149.48L470.40 149.14L470.90 148.83L471.40 148.55L471.90 148.28L472.40 148.04L472.90 147.83L473.40 147.64L473.90 147.47L474.40 147.33L474.90 147.22L475.40 147.13L475.90 147.07L476.40 147.04L476.90 147.03L477.40 147.05L477.90 147.10L478.40 147.17L478.90 147.27L479.40 147.41L479.90 147.57L480.40 147.75L480.90 147.97L481.40 148.22L481.90 148.50L482.40 148.80L482.90 149.14L483.40 149.51L483.90 149.91L484.40 150.34L484.90 150.80L485.40 151.29L485.90 151.81L486.40 152.36L486.90 152.95L487.40 153.57L487.90 154.22L488.40 154.90L488.90 155.61L489.40 156.36L489.90 157.14L490.40 157.95L490.90 158.79L491.40 159.67L491.90 160.58L492.40 161.52L492.90 162.50L493.40 163.51L493.90 164.55L494.40 165.63L494.90 166.73L495.40 167.87L495.90 169.05L496.40 170.25L496.90 171.49L497.40 172.76L497.90 174.07L498.40 175.40L498.90 176.77L499.40 178.17L499.90 179.60L500.40 181.07L500.90 182.56L501.40 184.09L501.90 185.65L502.40 187.24L502.90 188.85L503.40 190.50L503.90 192.18L504.40 193.89L504.90 195.62L505.40 197.39L505.90 199.18L506.40 201.00L506.90 202.85L507.40 204.72L507.90 206.62L508.40 208.55L508.90 210.50L509.40 212.47L509.90 214.47L510.40 216.49L510.90 218.54L511.40 220.60L511.90 222.69L512.40 224.79L512.90 226.92L513.40 229.06L513.90 231.22L514.40 233.40L514.90 235.59L515.40 237.80L515.90 240.02L516.40 242.25L516.90 244.49L517.40 246.75L517.90 249.01L518.40 251.28L518.90 253.56L519.40 255.85L519.90 258.13L520.40 260.42L520.90 262.72L521.40 265.01L521.90 267.30L522.40 269.59L522.60 270.50L523.10 268.37L523.60 266.22L524.10 264.03L524.60 261.82L525.10 259.58L525.60 257.31L526.10 255.01L526.60 252.69L527.10 250.34L527.60 247.98L528.10 245.59L528.60 243.18L529.10 240.75L529.60 238.30L530.10 235.83L530.60 233.35L531.10 230.85L531.60 228.33L532.10 225.80L532.60 223.26L533.10 220.70L533.60 218.13L534.10 215.56L534.60 212.97L535.10 210.37L535.60 207.77L536.10 205.16L536.60 202.54L537.10 199.92L537.60 197.29L538.10 194.66L538.60 192.03L539.10 189.40L539.60 186.76L540.10 184.13L540.60 181.49L541.10 178.86L541.60 176.23L542.10 173.60L542.60 170.98L543.10 168.37L543.60 165.75L544.10 163.15L544.60 160.55L545.10 157.96L545.60 155.38L546.10 152.81L546.60 150.25L547.10 147.70L547.60 145.17L548.10 142.64L548.60 140.13L549.10 137.64L549.60 135.16L550.10 132.69L550.60 130.24L551.10 127.81L551.60 125.40L552.10 123.00L552.60 120.62L553.10 118.27L553.60 115.93L554.10 113.61L554.60 111.32L555.10 109.05L555.60 106.80L556.10 104.57L556.60 102.37L557.10 100.20L557.60 98.05L558.10 95.92L558.60 93.82L559.10 91.75L559.60 89.71L560.10 87.70L560.60 85.71L561.10 83.75L561.60 81.82L562.10 79.93L562.60 78.06L563.10 76.23L563.60 74.43L564.10 72.66L564.60 70.92L565.10 69.21L565.60 67.54L566.10 65.91L566.60 64.31L567.10 62.74L567.60 61.21L568.10 59.71L568.60 58.26L569.10 56.83L569.60 55.45L570.10 54.10L570.60 52.79L571.10 51.52L571.60 50.29L572.10 49.09L572.60 47.94L573.10 46.82L573.60 45.75L574.10 44.71L574.60 43.72L575.10 42.77L575.60 41.85L576.10 40.98L576.60 40.15L577.10 39.36L577.60 38.62L578.10 37.91L578.60 37.25L579.10 36.63L579.60 36.06L580.10 35.52L580.60 35.03L581.10 34.59L581.60 34.19L582.10 33.83L582.60 33.51L583.10 33.24L583.60 33.01L584.10 32.83L584.60 32.69L585.10 32.60L585.60 32.55L586.10 32.54L586.60 32.58L587.10 32.67L587.60 32.80L588.10 32.97L588.60 33.19L589.10 33.45L589.60 33.76L590.10 34.12L590.60 34.51L591.10 34.96L591.60 35.44L592.10 35.98L592.60 36.55L593.10 37.17L593.60 37.84L594.10 38.55L594.60 39.30L595.10 40.10L595.60 40.94L596.10 41.83L596.60 42.76L597.10 43.74L597.60 44.75L598.10 45.81L598.60 46.92L599.10 48.07L599.60 49.26L600.10 50.49L600.60 51.76L601.10 53.08L601.60 54.44L602.10 55.84L602.60 57.28L603.10 58.77L603.60 60.29L604.10 61.85L604.60 63.46L605.10 65.10L605.60 66.79L606.10 68.51L606.60 70.28L607.10 72.08L607.60 73.92L608.10 75.80L608.60 77.71L609.10 79.67L609.60 81.66L610.10 83.68L610.60 85.74L611.10 87.84L611.60 89.98L612.10 92.14L612.60 94.35L613.10 96.58L613.60 98.85L614.10 101.15L614.60 103.49L615.10 105.86L615.60 108.25L616.10 110.68L616.60 113.14L617.10 115.63L617.60 118.15L618.10 120.70L618.60 123.27L619.10 125.88L619.60 128.51L620.10 131.16L620.60 133.85L621.10 136.55L621.60 139.29L622.10 142.04L622.60 144.82L623.10 147.63L623.60 150.45L624.10 153.30L624.60 156.16L625.10 159.05L625.60 161.96L626.10 164.88L626.60 167.82L627.10 170.78L627.60 173.76L628.10 176.75L628.60 179.76L629.10 182.78L629.60 185.82L630.10 188.86L630.60 191.92L631.10 195.00L631.60 198.08L632.10 201.17L632.60 204.27L633.10 207.38L633.60 210.49L634.10 213.61L634.60 216.74L635.10 219.87L635.60 223.01L636.10 226.14L636.60 229.29L637.10 232.43L637.60 235.57L638.10 238.71L638.60 241.85L639.10 244.99L639.60 248.12L640.10 251.25L640.60 254.37L641.10 257.49L641.60 260.60L642.10 263.71L642.60 266.80L643.10 269.88L643.20 270.50L643.70 267.34L644.20 264.21L644.70 261.11L645.20 258.04L645.70 255.00L646.20 251.99L646.70 249.01L647.20 246.07L647.70 243.17L648.20 240.30L648.70 237.46L649.20 234.66L649.70 231.90L650.20 229.18L650.70 226.49L651.20 223.85L651.70 221.24L652.20 218.68L652.70 216.15L653.20 213.67L653.70 211.24L654.20 208.85L654.70 206.50L655.20 204.20L655.70 201.94L656.20 199.73L656.70 197.57L657.20 195.46L657.70 193.39L658.20 191.38L658.70 189.42L659.20 187.51L659.70 185.65L660.20 183.84L660.70 182.09L661.20 180.39L661.70 178.75L662.20 177.16L662.70 175.63L663.20 174.16L663.70 172.74L664.20 171.39L664.70 170.09L665.20 168.86L665.70 167.68L666.20 166.57L666.70 165.52L667.20 164.53L667.70 163.61L668.20 162.75L668.70 161.96L669.20 161.23L669.70 160.58L670.20 159.98L670.70 159.46L671.20 159.01L671.70 158.63L672.20 158.31L672.70 158.07L673.20 157.91L673.70 157.81L674.20 157.79L674.70 157.84L675.20 157.97L675.70 158.18L676.20 158.46L676.70 158.82L677.20 159.25L677.70 159.77L678.20 160.37L678.70 161.04L679.20 161.80L679.70 162.64L680.20 163.56L680.70 164.57L681.20 165.66L681.70 166.83L682.20 168.09L682.70 169.44L683.20 170.88L683.70 172.40L684.00 173.35" fill="none" stroke="#ff0000" stroke-width="1.55" stroke-linejoin="round" stroke-linecap="butt"/>
<path d="M388.90 269.50L389.40 269.51L389.90 269.51L390.40 269.53L390.90 269.55L391.40 269.57L391.90 269.59L392.40 269.62L392.90 269.66L393.40 269.70L393.90 269.74L394.40 269.79L394.90 269.84L395.40 269.89L395.90 269.95L396.40 270.02L396.90 270.08L397.40 270.15L397.90 270.23L398.40 270.31L398.90 270.39L399.40 270.48L399.50 270.50L400.00 270.49L400.50 270.49L401.00 270.42L401.50 270.32L402.00 270.18L402.50 270.00L403.00 269.78L403.50 269.54L404.00 269.26L404.50 268.94L405.00 268.60L405.50 268.23L406.00 267.82L406.50 267.39L407.00 266.93L407.50 266.45L408.00 265.94L408.50 265.40L409.00 264.85L409.50 264.26L410.00 263.66L410.50 263.04L411.00 262.39L411.50 261.72L412.00 261.04L412.50 260.33L413.00 259.61L413.50 258.87L414.00 258.12L414.50 257.35L415.00 256.56L415.50 255.76L416.00 254.94L416.50 254.11L417.00 253.27L417.50 252.41L418.00 251.55L418.50 250.67L419.00 249.78L419.50 248.88L420.00 247.97L420.50 247.05L421.00 246.12L421.50 245.19L422.00 244.24L422.50 243.29L423.00 242.33L423.50 241.37L424.00 240.39L424.50 239.41L425.00 238.43L425.50 237.44L426.00 236.45L426.50 235.45L427.00 234.45L427.50 233.44L428.00 232.44L428.50 231.42L429.00 230.41L429.50 229.39L430.00 228.37L430.50 227.36L431.00 226.33L431.50 225.31L432.00 224.29L432.50 223.27L433.00 222.24L433.50 221.22L434.00 220.20L434.50 219.18L435.00 218.16L435.50 217.14L436.00 216.12L436.50 215.11L437.00 214.10L437.50 213.09L438.00 212.08L438.50 211.08L439.00 210.08L439.50 209.08L440.00 208.09L440.50 207.11L441.00 206.12L441.50 205.14L442.00 204.17L442.50 203.20L443.00 202.24L443.50 201.29L444.00 200.34L444.50 199.40L445.00 198.46L445.50 197.53L446.00 196.61L446.50 195.70L447.00 194.79L447.50 193.89L448.00 193.00L448.50 192.12L449.00 191.25L449.50 190.39L450.00 189.54L450.50 188.69L451.00 187.86L451.50 187.04L452.00 186.23L452.50 185.43L453.00 184.64L453.50 183.86L454.00 183.09L454.50 182.34L455.00 181.60L455.50 180.87L456.00 180.15L456.50 179.45L457.00 178.76L457.50 178.08L458.00 177.42L458.50 176.77L459.00 176.14L459.50 175.52L460.00 174.92L460.50 174.33L461.00 173.76L461.50 173.21L462.00 172.67L462.50 172.15L463.00 171.64L463.50 171.16L464.00 170.69L464.50 170.24L465.00 169.80L465.50 169.39L466.00 168.99L466.50 168.62L467.00 168.26L467.50 167.92L468.00 167.60L468.50 167.31L469.00 167.03L469.50 166.78L470.00 166.54L470.50 166.33L471.00 166.14L471.50 165.97L472.00 165.82L472.50 165.70L473.00 165.60L473.50 165.52L474.00 165.46L474.50 165.43L475.00 165.43L475.50 165.44L476.00 165.49L476.50 165.55L477.00 165.65L477.50 165.76L478.00 165.91L478.50 166.08L479.00 166.27L479.50 166.49L480.00 166.74L480.50 167.01L481.00 167.31L481.50 167.64L482.00 168.00L482.50 168.38L483.00 168.79L483.50 169.23L484.00 169.70L484.50 170.19L485.00 170.72L485.50 171.27L486.00 171.85L486.50 172.46L487.00 173.10L487.50 173.77L488.00 174.46L488.50 175.19L489.00 175.94L489.50 176.73L490.00 177.54L490.50 178.39L491.00 179.26L491.50 180.16L492.00 181.10L492.50 182.06L493.00 183.05L493.50 184.07L494.00 185.12L494.50 186.20L495.00 187.32L495.50 188.45L496.00 189.62L496.50 190.82L497.00 192.05L497.50 193.30L498.00 194.59L498.50 195.90L499.00 197.24L499.50 198.61L500.00 200.01L500.50 201.43L501.00 202.88L501.50 204.36L502.00 205.86L502.50 207.40L503.00 208.95L503.50 210.53L504.00 212.14L504.50 213.77L505.00 215.43L505.50 217.11L506.00 218.81L506.50 220.54L507.00 222.29L507.50 224.06L508.00 225.85L508.50 227.66L509.00 229.49L509.50 231.34L510.00 233.20L510.50 235.09L511.00 236.99L511.50 238.90L512.00 240.84L512.50 242.78L513.00 244.74L513.50 246.71L514.00 248.69L514.50 250.68L515.00 252.68L515.50 254.69L516.00 256.71L516.50 258.73L517.00 260.75L517.50 262.78L518.00 264.81L518.50 266.85L519.00 268.88L519.40 270.50L519.90 268.47L520.40 266.40L520.90 264.31L521.40 262.19L521.90 260.04L522.40 257.87L522.90 255.67L523.40 253.46L523.90 251.21L524.40 248.95L524.90 246.67L525.40 244.37L525.90 242.05L526.40 239.72L526.90 237.37L527.40 235.01L527.90 232.63L528.40 230.23L528.90 227.83L529.40 225.42L529.90 222.99L530.40 220.56L530.90 218.12L531.40 215.67L531.90 213.21L532.40 210.75L532.90 208.28L533.40 205.81L533.90 203.34L534.40 200.86L534.90 198.39L535.40 195.91L535.90 193.43L536.40 190.95L536.90 188.47L537.40 186.00L537.90 183.53L538.40 181.06L538.90 178.60L539.40 176.14L539.90 173.69L540.40 171.25L540.90 168.81L541.40 166.38L541.90 163.96L542.40 161.55L542.90 159.14L543.40 156.75L543.90 154.37L544.40 152.00L544.90 149.65L545.40 147.30L545.90 144.97L546.40 142.66L546.90 140.36L547.40 138.07L547.90 135.80L548.40 133.55L548.90 131.32L549.40 129.10L549.90 126.90L550.40 124.72L550.90 122.56L551.40 120.42L551.90 118.30L552.40 116.19L552.90 114.12L553.40 112.06L553.90 110.02L554.40 108.01L554.90 106.02L555.40 104.06L555.90 102.12L556.40 100.20L556.90 98.31L557.40 96.44L557.90 94.61L558.40 92.79L558.90 91.01L559.40 89.25L559.90 87.52L560.40 85.82L560.90 84.14L561.40 82.50L561.90 80.88L562.40 79.30L562.90 77.74L563.40 76.21L563.90 74.72L564.40 73.26L564.90 71.83L565.40 70.43L565.90 69.06L566.40 67.73L566.90 66.43L567.40 65.16L567.90 63.93L568.40 62.73L568.90 61.56L569.40 60.43L569.90 59.33L570.40 58.27L570.90 57.25L571.40 56.26L571.90 55.31L572.40 54.39L572.90 53.51L573.40 52.67L573.90 51.86L574.40 51.10L574.90 50.37L575.40 49.67L575.90 49.02L576.40 48.41L576.90 47.83L577.40 47.29L577.90 46.79L578.40 46.33L578.90 45.91L579.40 45.53L579.90 45.19L580.40 44.89L580.90 44.63L581.40 44.42L581.90 44.24L582.40 44.10L582.90 44.00L583.40 43.95L583.90 43.93L584.40 43.96L584.90 44.03L585.40 44.14L585.90 44.29L586.40 44.48L586.90 44.71L587.40 44.99L587.90 45.31L588.40 45.67L588.90 46.07L589.40 46.51L589.90 47.00L590.40 47.53L590.90 48.10L591.40 48.71L591.90 49.37L592.40 50.07L592.90 50.80L593.40 51.59L593.90 52.41L594.40 53.28L594.90 54.18L595.40 55.13L595.90 56.12L596.40 57.16L596.90 58.23L597.40 59.35L597.90 60.50L598.40 61.70L598.90 62.94L599.40 64.22L599.90 65.55L600.40 66.91L600.90 68.31L601.40 69.75L601.90 71.24L602.40 72.76L602.90 74.32L603.40 75.92L603.90 77.56L604.40 79.24L604.90 80.96L605.40 82.72L605.90 84.51L606.40 86.34L606.90 88.21L607.40 90.12L607.90 92.06L608.40 94.03L608.90 96.05L609.40 98.10L609.90 100.18L610.40 102.30L610.90 104.45L611.40 106.63L611.90 108.85L612.40 111.10L612.90 113.38L613.40 115.69L613.90 118.04L614.40 120.41L614.90 122.81L615.40 125.24L615.90 127.70L616.40 130.19L616.90 132.71L617.40 135.25L617.90 137.81L618.40 140.40L618.90 143.01L619.40 145.65L619.90 148.31L620.40 150.99L620.90 153.69L621.40 156.42L621.90 159.16L622.40 161.91L622.90 164.69L623.40 167.48L623.90 170.29L624.40 173.11L624.90 175.94L625.40 178.79L625.90 181.64L626.40 184.51L626.90 187.38L627.40 190.27L627.90 193.15L628.40 196.05L628.90 198.95L629.40 201.85L629.90 204.75L630.40 207.65L630.90 210.55L631.40 213.45L631.90 216.35L632.40 219.23L632.90 222.12L633.40 224.99L633.90 227.85L634.40 230.71L634.90 233.55L635.40 236.37L635.90 239.18L636.40 241.97L636.90 244.74L637.40 247.49L637.90 250.22L638.40 252.92L638.90 255.60L639.40 258.25L639.90 260.87L640.40 263.45L640.90 266.00L641.40 268.52L641.80 270.50L642.30 268.19L642.80 265.85L643.30 263.50L643.80 261.14L644.30 258.77L644.80 256.39L645.30 254.01L645.80 251.63L646.30 249.25L646.80 246.88L647.30 244.53L647.80 242.18L648.30 239.85L648.80 237.54L649.30 235.25L649.80 232.99L650.30 230.76L650.80 228.55L651.30 226.38L651.80 224.24L652.30 222.14L652.80 220.08L653.30 218.06L653.80 216.09L654.30 214.16L654.80 212.29L655.30 210.46L655.80 208.69L656.30 206.97L656.80 205.32L657.30 203.72L657.80 202.18L658.30 200.70L658.80 199.29L659.30 197.95L659.80 196.67L660.30 195.47L660.80 194.33L661.30 193.27L661.80 192.28L662.30 191.37L662.80 190.53L663.30 189.77L663.80 189.09L664.30 188.49L664.80 187.97L665.30 187.53L665.80 187.18L666.30 186.91L666.80 186.72L667.30 186.62L667.80 186.60L668.30 186.67L668.80 186.83L669.30 187.08L669.80 187.41L670.30 187.83L670.80 188.35L671.30 188.95L671.80 189.63L672.30 190.41L672.80 191.28L673.30 192.24L673.80 193.29L674.30 194.42L674.80 195.65L675.30 196.97L675.80 198.37L676.30 199.86L676.80 201.44L677.30 203.11L677.80 204.87L678.30 206.71L678.80 208.64L679.30 210.66L679.80 212.75L680.30 214.94L680.80 217.20L681.30 219.55L681.80 221.98L682.30 224.49L682.80 227.08L683.30 229.75L683.80 232.50L684.00 233.61" fill="none" stroke="#54305e" stroke-width="1.55" stroke-linejoin="round" stroke-linecap="butt"/>
</g>
<g stroke="#1e1e1e" fill="none">
<path stroke-width="1.15" d="M19.8 0.4V271.1M19.2 270.5H320.3"/>
<path stroke-width="0.9" d="M16.00 270.50H19.8M17.60 255.50H19.8M16.00 240.50H19.8M17.60 225.50H19.8M16.00 210.50H19.8M17.60 195.50H19.8M16.00 180.50H19.8M17.60 165.50H19.8M16.00 150.50H19.8M17.60 135.50H19.8M16.00 120.50H19.8M17.60 105.50H19.8M16.00 90.50H19.8M17.60 75.50H19.8M16.00 60.50H19.8M17.60 45.50H19.8M16.00 30.50H19.8M17.60 15.50H19.8M19.80 270.5V274.50M49.79 270.5V272.90M79.78 270.5V274.50M109.77 270.5V272.90M139.76 270.5V274.50M169.75 270.5V272.90M199.74 270.5V274.50M229.73 270.5V272.90M259.72 270.5V274.50M289.71 270.5V272.90M319.70 270.5V274.50"/>
<path stroke-width="1.15" d="M389.0 5.949999999999999V271.1M388.4 270.5H684.5"/>
<path stroke-width="0.9" d="M385.20 270.50H389.0M387.00 257.29H389.0M387.00 244.09H389.0M387.00 230.88H389.0M387.00 217.67H389.0M385.20 204.46H389.0M387.00 191.25H389.0M387.00 178.05H389.0M387.00 164.84H389.0M387.00 151.63H389.0M385.20 138.43H389.0M387.00 125.22H389.0M387.00 112.01H389.0M387.00 98.80H389.0M387.00 85.59H389.0M385.20 72.39H389.0M387.00 59.18H389.0M387.00 45.97H389.0M387.00 32.77H389.0M387.00 19.56H389.0M385.20 6.35H389.0M389.00 270.5V274.50M418.49 270.5V272.90M447.98 270.5V274.50M477.47 270.5V272.90M506.96 270.5V274.50M536.45 270.5V272.90M565.94 270.5V274.50M595.43 270.5V272.90M624.92 270.5V274.50M654.41 270.5V272.90M683.90 270.5V274.50"/>
</g>
<g>
<text class="t" transform="translate(14.2 275.1) scale(0.915 1)" text-anchor="end">0</text><text class="t" transform="translate(13.8 244.1) scale(0.915 1)" text-anchor="end">0.1</text><text class="t" transform="translate(13.8 214.1) scale(0.915 1)" text-anchor="end">0.2</text><text class="t" transform="translate(13.8 184.1) scale(0.915 1)" text-anchor="end">0.3</text><text class="t" transform="translate(13.8 154.1) scale(0.915 1)" text-anchor="end">0.4</text><text class="t" transform="translate(13.8 124.1) scale(0.915 1)" text-anchor="end">0.5</text><text class="t" transform="translate(13.8 94.1) scale(0.915 1)" text-anchor="end">0.6</text><text class="t" transform="translate(13.8 64.1) scale(0.915 1)" text-anchor="end">0.7</text><text class="t" transform="translate(13.8 34.1) scale(0.915 1)" text-anchor="end">0.8</text>
<text class="t" transform="translate(20.0 286.1) scale(0.915 1)" text-anchor="middle">0</text><text class="t" transform="translate(79.3 286.1) scale(0.915 1)" text-anchor="middle">0.2</text><text class="t" transform="translate(139.3 286.1) scale(0.915 1)" text-anchor="middle">0.4</text><text class="t" transform="translate(199.2 286.1) scale(0.915 1)" text-anchor="middle">0.6</text><text class="t" transform="translate(259.2 286.1) scale(0.915 1)" text-anchor="middle">0.8</text><text class="t" transform="translate(319.1 286.1) scale(0.915 1)" text-anchor="middle">1</text>
<text class="t" transform="translate(383.4 274.1) scale(0.915 1)" text-anchor="end">0</text><text class="t" transform="translate(383.4 209.1) scale(0.915 1)" text-anchor="end">0.05</text><text class="t" transform="translate(383.4 143.1) scale(0.915 1)" text-anchor="end">0.10</text><text class="t" transform="translate(383.4 77.1) scale(0.915 1)" text-anchor="end">0.15</text><text class="t" transform="translate(383.4 11.1) scale(0.915 1)" text-anchor="end">0.20</text>
<text class="t" transform="translate(389.2 286.1) scale(0.915 1)" text-anchor="middle">0</text><text class="t" transform="translate(447.5 286.1) scale(0.915 1)" text-anchor="middle">0.2</text><text class="t" transform="translate(506.5 286.1) scale(0.915 1)" text-anchor="middle">0.4</text><text class="t" transform="translate(565.4 286.1) scale(0.915 1)" text-anchor="middle">0.6</text><text class="t" transform="translate(624.4 286.1) scale(0.915 1)" text-anchor="middle">0.8</text><text class="t" transform="translate(683.3 286.1) scale(0.915 1)" text-anchor="middle">1</text>
<text class="t i" transform="translate(169.4 299.1) scale(1.1 1)" text-anchor="middle">z</text><text class="t i" transform="translate(535.4 299.1) scale(1.1 1)" text-anchor="middle">z</text>
</g>
<g>
<rect x="65.4" y="306.4" width="179.8" height="25.0" fill="#fff" stroke="#1c1c1c" stroke-width="1.3"/>
<path d="M68.6 318.1H97.6" stroke="#30f030" stroke-width="2"/>
<text class="g" x="102.2" y="322.0">𝒢</text>
<text class="s" transform="translate(112.2 317.1) scale(0.95 1)" text-anchor="start">0.5</text>
<text class="s" transform="translate(112.5 328.2) scale(0.95 1)" text-anchor="start">10</text>
<path d="M130.6 318.1H159.6" stroke="#f53838" stroke-width="2"/>
<text class="g" x="164.2" y="322.0">𝒢</text>
<text class="s" transform="translate(174.2 317.1) scale(0.95 1)" text-anchor="start">2</text>
<text class="s" transform="translate(174.5 328.2) scale(0.95 1)" text-anchor="start">10</text>
<path d="M188.4 318.1H217.4" stroke="#7a577e" stroke-width="2"/>
<text class="g" x="222.0" y="322.0">𝒢</text>
<text class="s" transform="translate(232.0 317.1) scale(0.95 1)" text-anchor="start">5</text>
<text class="s" transform="translate(232.3 328.2) scale(0.95 1)" text-anchor="start">10</text>
</g>
<g>
<rect x="429.5" y="306.4" width="179.8" height="25.0" fill="#fff" stroke="#1c1c1c" stroke-width="1.3"/>
<path d="M432.7 318.1H461.7" stroke="#30f030" stroke-width="2"/>
<text class="g" x="466.3" y="322.0">𝒢</text>
<text class="s" transform="translate(476.3 317.1) scale(0.95 1)" text-anchor="start">0.5</text>
<text class="s" transform="translate(476.6 328.2) scale(0.95 1)" text-anchor="start">10</text>
<path d="M494.7 318.1H523.7" stroke="#f53838" stroke-width="2"/>
<text class="g" x="528.3" y="322.0">𝒢</text>
<text class="s" transform="translate(538.3 317.1) scale(0.95 1)" text-anchor="start">2</text>
<text class="s" transform="translate(538.6 328.2) scale(0.95 1)" text-anchor="start">10</text>
<path d="M552.5 318.1H581.5" stroke="#7a577e" stroke-width="2"/>
<text class="g" x="586.1" y="322.0">𝒢</text>
<text class="s" transform="translate(596.1 317.1) scale(0.95 1)" text-anchor="start">5</text>
<text class="s" transform="translate(596.4 328.2) scale(0.95 1)" text-anchor="start">10</text>
</g>
</svg>
</body></html>
